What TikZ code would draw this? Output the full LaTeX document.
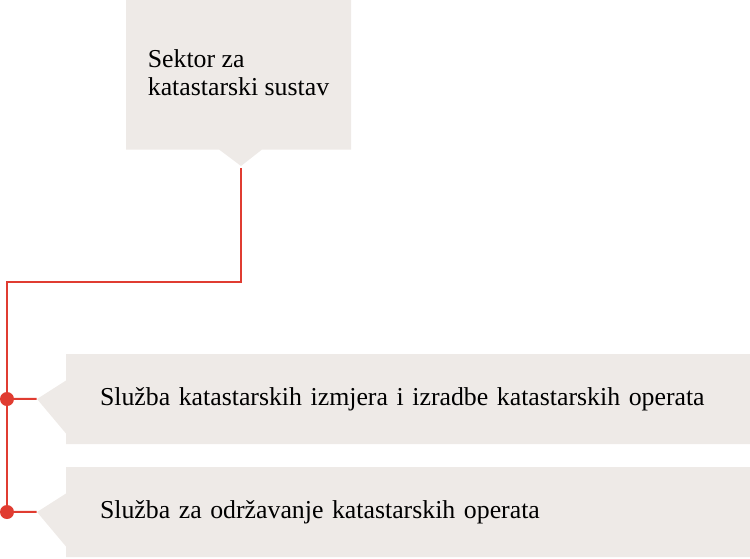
\documentclass[tikz,border=0pt]{standalone}
\usepackage{fontspec}
\setmainfont{Liberation Serif}
\usetikzlibrary{shapes.callouts}
\definecolor{boxgray}{HTML}{EEEAE7}
\definecolor{linered}{HTML}{E03C31}
\tikzset{
  sektorbox/.style={rectangle callout,fill=boxgray,minimum width=225pt,minimum height=150pt,
    align=left,callout pointer width=43pt,font=\fontsize{25.8}{28}\selectfont},
  sluzbabox/.style={rectangle callout,fill=boxgray,minimum height=90pt,text width=616pt,
    inner xsep=34pt,align=left,callout pointer width=53pt,font=\fontsize{25.8}{28}\selectfont},
  dot/.style={circle,fill=linered,inner sep=0pt,minimum size=14pt},
  veza/.style={linered,line width=2pt}
}
\begin{document}
\begin{tikzpicture}[x=1pt,y=-1pt]
      \useasboundingbox (0,0) rectangle (750,558);

      \node[sektorbox,callout absolute pointer={(241,166)}] (sektor) at (238.5,74.5)
        {Sektor za\\katastarski sustav\rule[-4pt]{0pt}{1pt}};

      \node[sluzbabox,callout absolute pointer={(37,399)}] (izmjera) at (408,399)
        {Služba katastarskih izmjera i izradbe katastarskih operata\rule[-4pt]{0pt}{1pt}};
      \node[sluzbabox,callout absolute pointer={(37,512)}] (odrzavanje) at (408,512)
        {Služba za održavanje katastarskih operata\rule[-4pt]{0pt}{1pt}};

      \node[dot] (d1) at (7,399) {};
      \node[dot] (d2) at (7,512) {};
      \coordinate (lom) at (7,282);

      \draw[veza] (sektor.pointer) ++(0,2) |- (lom) -- (d2.center);
      \draw[veza] (d1.center) -- (izmjera.pointer);
      \draw[veza] (d2.center) -- (odrzavanje.pointer);
\end{tikzpicture}
\end{document}
